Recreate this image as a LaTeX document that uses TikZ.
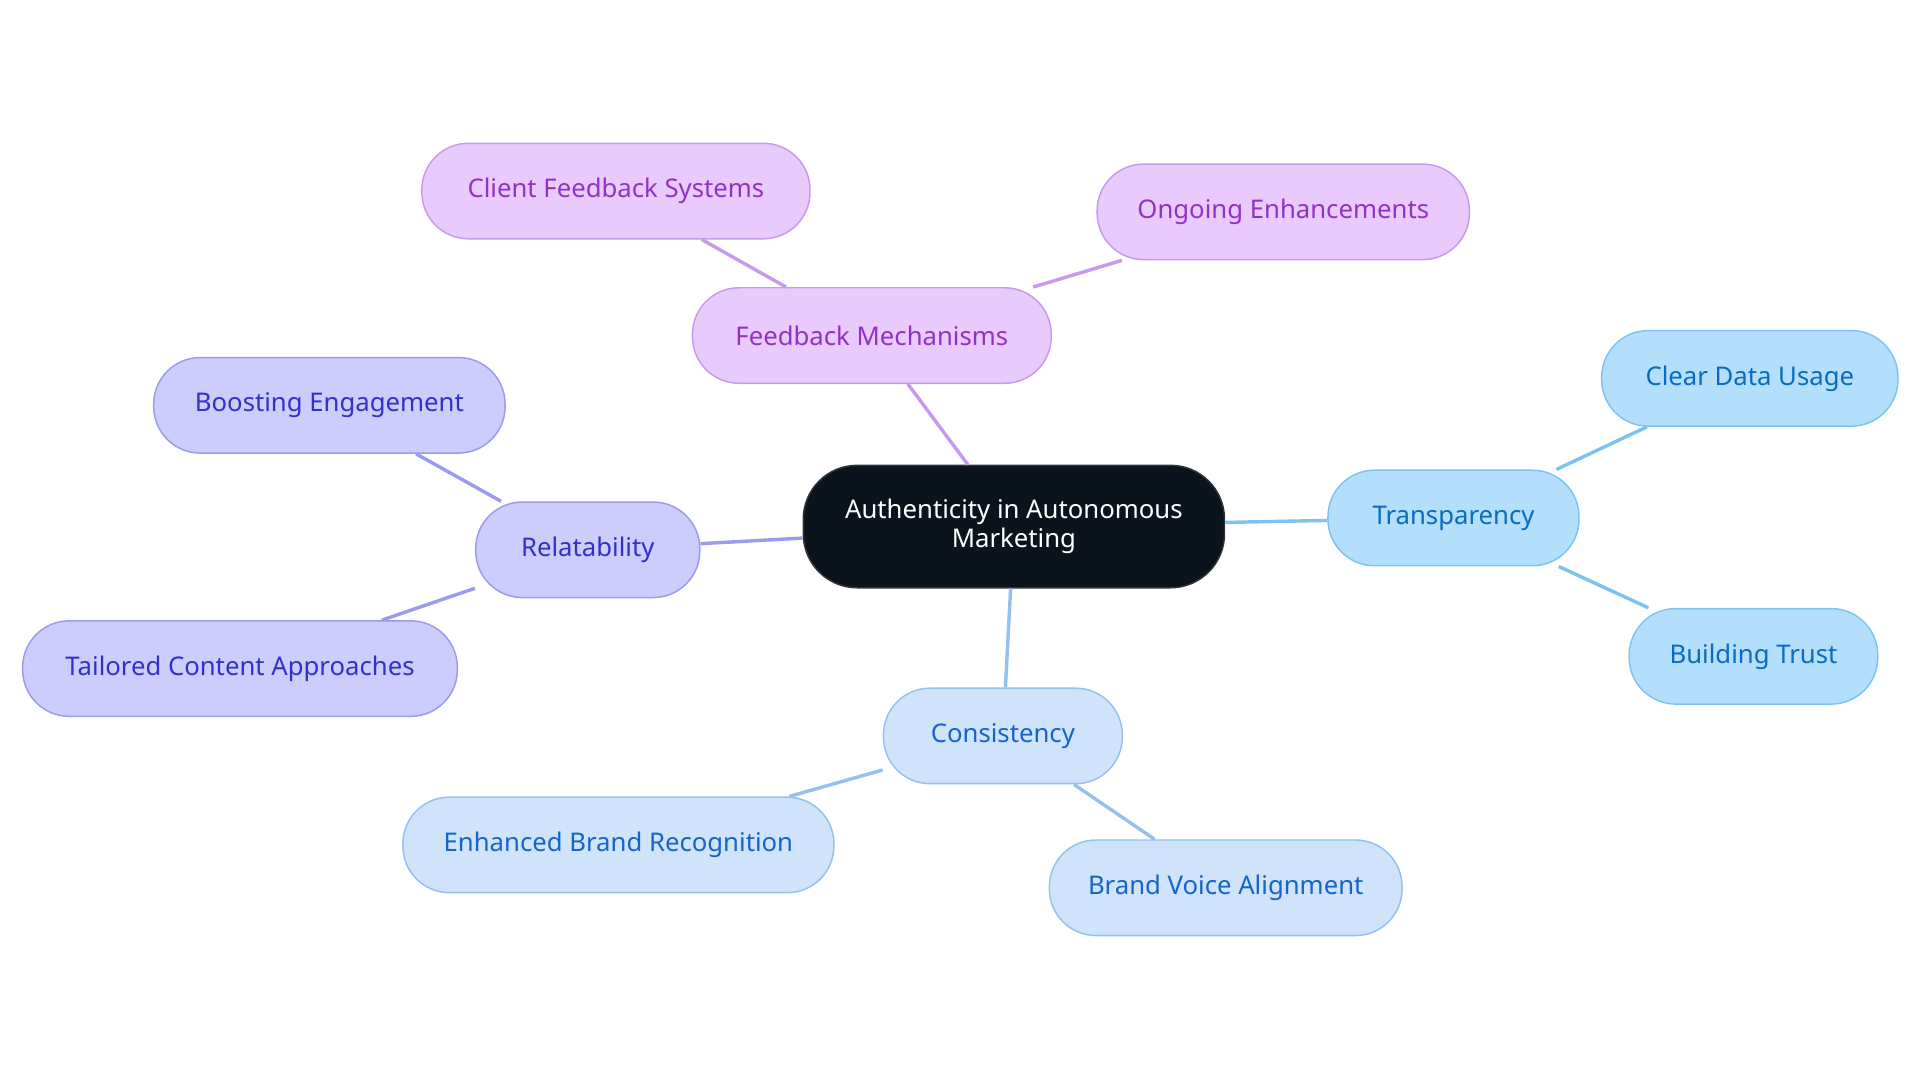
\documentclass[tikz,border=0pt]{standalone}
\usepackage{fontspec}
\setmainfont{Noto Sans}
\begin{document}
\begin{tikzpicture}[x=0.5pt,y=-0.5pt,
 base/.style={rounded corners=19pt,minimum height=39pt,line width=0.6pt,font=\fontsize{10.5}{12}\selectfont,inner sep=0pt,align=center},
 tb/.style={base,fill=tbf,draw=tbd,text=tbt},
 cb/.style={base,fill=cbf,draw=cbd,text=cbt},
 rb/.style={base,fill=rbf,draw=rbd,text=rbt},
 fb/.style={base,fill=fbf,draw=fbd,text=fbt},
 ln/.style={line width=1.4pt}]
\definecolor{tbf}{HTML}{B3DFFD}\definecolor{tbd}{HTML}{7CC3F0}\definecolor{tbt}{HTML}{0A6BBF}
\definecolor{cbf}{HTML}{CFE3FB}\definecolor{cbd}{HTML}{96C1EE}\definecolor{cbt}{HTML}{1565C8}
\definecolor{rbf}{HTML}{CCCCFD}\definecolor{rbd}{HTML}{9A9AEE}\definecolor{rbt}{HTML}{3131C8}
\definecolor{fbf}{HTML}{E8CAFD}\definecolor{fbd}{HTML}{C89AEE}\definecolor{fbt}{HTML}{9231C8}
\definecolor{rootf}{HTML}{0B131C}
\useasboundingbox (0,0) rectangle (1568,884);
\node[base,fill=rootf,draw=rootf!70!gray,text=white,minimum width=172pt,minimum height=50pt,rounded corners=22pt] (root) at (828,430) {Authenticity in Autonomous\\Marketing};
\node[tb,minimum width=102.5pt] (t) at (1187,423) {Transparency};
\node[tb,minimum width=121pt] (t1) at (1429,309) {Clear Data Usage};
\node[tb,minimum width=101.5pt] (t2) at (1432,536) {Building Trust};
\node[cb,minimum width=97.5pt] (c) at (819,601) {Consistency};
\node[cb,minimum width=176pt] (c1) at (505,690) {Enhanced Brand Recognition};
\node[cb,minimum width=144pt] (c2) at (1001,725) {Brand Voice Alignment};
\node[rb,minimum width=91.5pt] (r) at (480,449) {Relatability};
\node[rb,minimum width=143.5pt] (r1) at (269,331) {Boosting Engagement};
\node[rb,minimum width=177.5pt] (r2) at (196,546) {Tailored Content Approaches};
\node[fb,minimum width=146.5pt] (f) at (712,274) {Feedback Mechanisms};
\node[fb,minimum width=158.5pt] (f1) at (503,156) {Client Feedback Systems};
\node[fb,minimum width=152pt] (f2) at (1048,173) {Ongoing Enhancements};
\begin{scope}[on background layer/.style={}]
\end{scope}
\draw[ln,tbd] (root) -- (t); \draw[ln,tbd] (t) -- (t1); \draw[ln,tbd] (t) -- (t2);
\draw[ln,cbd] (root) -- (c); \draw[ln,cbd] (c) -- (c1); \draw[ln,cbd] (c) -- (c2);
\draw[ln,rbd] (root) -- (r); \draw[ln,rbd] (r) -- (r1); \draw[ln,rbd] (r) -- (r2);
\draw[ln,fbd] (root) -- (f); \draw[ln,fbd] (f) -- (f1); \draw[ln,fbd] (f) -- (f2);
\end{tikzpicture}
\end{document}
